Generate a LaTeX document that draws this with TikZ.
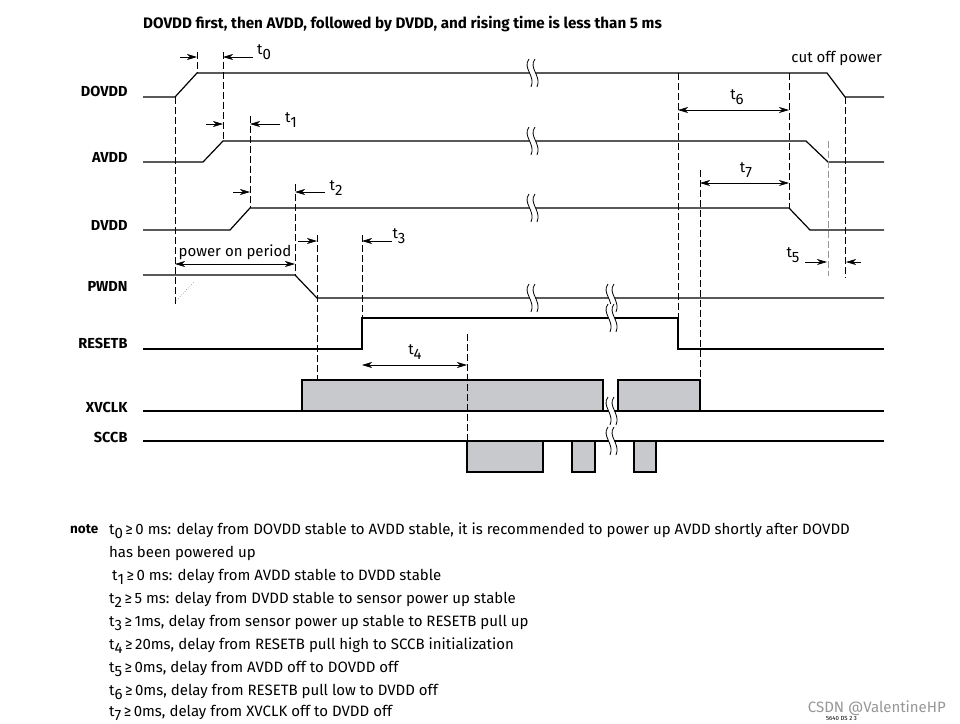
\documentclass[tikz,border=0pt]{standalone}
\usepackage{fontspec}
\setmainfont{Fira Sans}
\usepackage{tikz}
\usetikzlibrary{arrows.meta,positioning,calc}
\definecolor{clkgray}{RGB}{200,201,204}
\definecolor{markgray}{RGB}{150,150,150}

% squiggle break mark at (x,y)
\newcommand{\sigbreak}[2]{%
  \fill[white] (#1-3,#2-14) .. controls (#1-10,#2-5) and (#1+4,#2+3) .. (#1-1,#2+14)
    -- (#1+5,#2+14) .. controls (#1+10,#2+3) and (#1-4,#2-5) .. (#1+3,#2-14) -- cycle;
  \draw[line width=0.8pt] (#1-3,#2-14) .. controls (#1-10,#2-5) and (#1+4,#2+3) .. (#1-1,#2+14);
  \draw[line width=0.8pt] (#1+3,#2-14) .. controls (#1-4,#2-5) and (#1+10,#2+3) .. (#1+5,#2+14);
}
% time label with lowered index
\newcommand{\tix}[1]{t\raisebox{-0.55ex}{#1}}

\begin{document}
\begin{tikzpicture}[x=1pt, y=-1pt,
  sig/.style={line width=1.2pt},
  signame/.style={anchor=east, font=\fontsize{14.5}{14.5}\selectfont\bfseries},
  guide/.style={dashed, dash pattern=on 7pt off 3pt, line width=0.7pt},
  dim/.style={{Stealth[length=10pt,width=6pt,inset=3pt]}-{Stealth[length=10pt,width=6pt,inset=3pt]}, line width=0.7pt},
  pin/.style={-{Stealth[length=10pt,width=6pt,inset=3pt]}, line width=0.7pt},
  lbl/.style={font=\fontsize{15}{15}\selectfont, inner sep=1pt},
  box/.style={draw, fill=clkgray, line width=1.1pt},
  note/.style={anchor=base west, font=\fontsize{15}{15}\selectfont, inner sep=0pt}
]
\useasboundingbox (0,0) rectangle (960,723);

\node[anchor=base west, font=\fontsize{15.2}{15.2}\selectfont\bfseries, inner sep=0pt] (title) at (143,28)
  {DOVDD first, then AVDD, followed by DVDD, and rising time is less than 5 ms};

% signal names
\node[signame] (n1) at (131,91) {DOVDD};
\node[signame] (n2) at (131,157) {AVDD};
\node[signame] (n3) at (131,225) {DVDD};
\node[signame] (n4) at (131,286) {PWDN};
\node[signame] (n5) at (131,343) {RESETB};
\node[signame] (n6) at (131,407) {XVCLK};
\node[signame] (n7) at (131,437) {SCCB};

% waveforms
\draw[sig] (143,97) -- (175,97) -- (197,73) -- (827,73) -- (845,97) -- (884,97);
\draw[sig] (143,162) -- (203,162) -- (223,141) -- (806,141) -- (828,162) -- (884,162);
\draw[sig] (143,230) -- (230,230) -- (250,208) -- (789,208) -- (810,230) -- (884,230);
\draw[sig] (143,275) -- (295,275) -- (317,298) -- (884,298);
\draw[sig] (143,349) -- (362,349) -- (362,318) -- (678,318) -- (678,349) -- (884,349);
\draw[sig] (143,411) -- (884,411);
\draw[sig] (143,441) -- (884,441);
\draw[box] (302,411) rectangle (603,380);
\draw[box] (618,411) rectangle (700,380);
\draw[box] (467,441) rectangle (543,472);
\draw[box] (572,441) rectangle (595,472);
\draw[box] (634,441) rectangle (656,472);

\sigbreak{532}{73}
\sigbreak{532}{141}
\sigbreak{532}{208}
\sigbreak{532}{298}
\sigbreak{611}{298}
\sigbreak{611}{318}
\sigbreak{611}{411}
\sigbreak{611}{441}

% guide lines
\draw[guide] (175,97) -- (175,305);
\draw[dotted] (175,302) -- (194,282);
\draw[guide] (197,52) -- (197,73);
\draw[guide] (223,52) -- (223,141);
\draw[guide] (250,116) -- (250,208);
\draw[guide] (295,184) -- (295,275);
\draw[guide] (317,235) -- (317,380);
\draw[guide] (362,235) -- (362,318);
\draw[guide] (467,334) -- (467,441);
\draw[guide] (678,73) -- (678,318);
\draw[guide] (700,170) -- (700,380);
\draw[guide] (789,73) -- (789,208);
\draw[guide, markgray] (828,141) -- (828,276);
\draw[guide] (845,97) -- (845,278);

% timing marks
\coordinate (a0) at (197,57);  \coordinate (b0) at (223,57);
\draw[pin] ($(a0)+(-17,0)$) -- (a0);
\draw[pin] ($(b0)+(30,0)$) -- (b0);
\node[lbl] (t0) at (264,52) {\tix{0}};
\coordinate (a1) at (223,124); \coordinate (b1) at (250,124);
\draw[pin] ($(a1)+(-17,0)$) -- (a1);
\draw[pin] ($(b1)+(30,0)$) -- (b1);
\node[lbl] (t1) at (291,120) {\tix{1}};
\coordinate (a2) at (250,192); \coordinate (b2) at (295,192);
\draw[pin] ($(a2)+(-17,0)$) -- (a2);
\draw[pin] ($(b2)+(30,0)$) -- (b2);
\node[lbl] (t2) at (336,188) {\tix{2}};
\coordinate (a3) at (317,241); \coordinate (b3) at (362,241);
\draw[pin] ($(a3)+(-19,0)$) -- (a3);
\draw[pin] ($(b3)+(30,0)$) -- (b3);
\node[lbl] (t3) at (399,236) {\tix{3}};

\coordinate (p0) at (175,264); \coordinate (p1) at (295,264);
\draw[dim] (p0) -- (p1);
\node[lbl, above=3pt of $(p0)!0.5!(p1)$] (pon) {power on period};

\coordinate (s4) at (362,365); \coordinate (e4) at (467,365);
\draw[dim] (s4) -- (e4);
\node[lbl] (t4) at (415,352) {\tix{4}};

\coordinate (s6) at (678,110); \coordinate (e6) at (789,110);
\draw[dim] (s6) -- (e6);
\node[lbl] (t6) at (737,97) {\tix{6}};

\coordinate (s7) at (700,183); \coordinate (e7) at (789,183);
\draw[dim] (s7) -- (e7);
\node[lbl] (t7) at (746,170) {\tix{7}};

\coordinate (a5) at (827,262); \coordinate (b5) at (846,262);
\draw[pin] ($(a5)+(-22,0)$) -- (a5);
\draw[pin] ($(b5)+(15,0)$) -- (b5);
\node[lbl] (t5) at (793,255) {\tix{5}};

\node[lbl, anchor=east] (cut) at (883,58) {cut off power};

% notes
\node[anchor=base west, font=\fontsize{13.5}{13.5}\selectfont\bfseries, inner sep=0pt] (nt) at (70,533) {note};
\node[note] (l0) at (109,534) {\tix{0}\,≥\,0 ms: delay from DOVDD stable to AVDD stable, it is recommended to power up AVDD shortly after DOVDD};
\node[note] (l0b) at (109,557) {has been powered up};
\node[note] (l1) at (112,580) {\tix{1}\,≥\,0 ms: delay from AVDD stable to DVDD stable};
\node[note] (l2) at (109,603) {\tix{2}\,≥\,5 ms: delay from DVDD stable to sensor power up stable};
\node[note] (l3) at (109,626) {\tix{3}\,≥\,1ms, delay from sensor power up stable to RESETB pull up};
\node[note] (l4) at (109,649) {\tix{4}\,≥\,20ms, delay from RESETB pull high to SCCB initialization};
\node[note] (l5) at (109,672) {\tix{5}\,≥\,0ms, delay from AVDD off to DOVDD off};
\node[note] (l6) at (109,695) {\tix{6}\,≥\,0ms, delay from RESETB pull low to DVDD off};
\node[note] (l7) at (109,716) {\tix{7}\,≥\,0ms, delay from XVCLK off to DVDD off};

\node[anchor=base east, font=\fontsize{15}{15}\selectfont, text=markgray, inner sep=0pt] (wm) at (946,712) {CSDN @ValentineHP};
\node[anchor=base west, font=\fontsize{6}{6}\selectfont, inner sep=0pt] (ds) at (826,720) {5640 DS 2 3};
\end{tikzpicture}
\end{document}
